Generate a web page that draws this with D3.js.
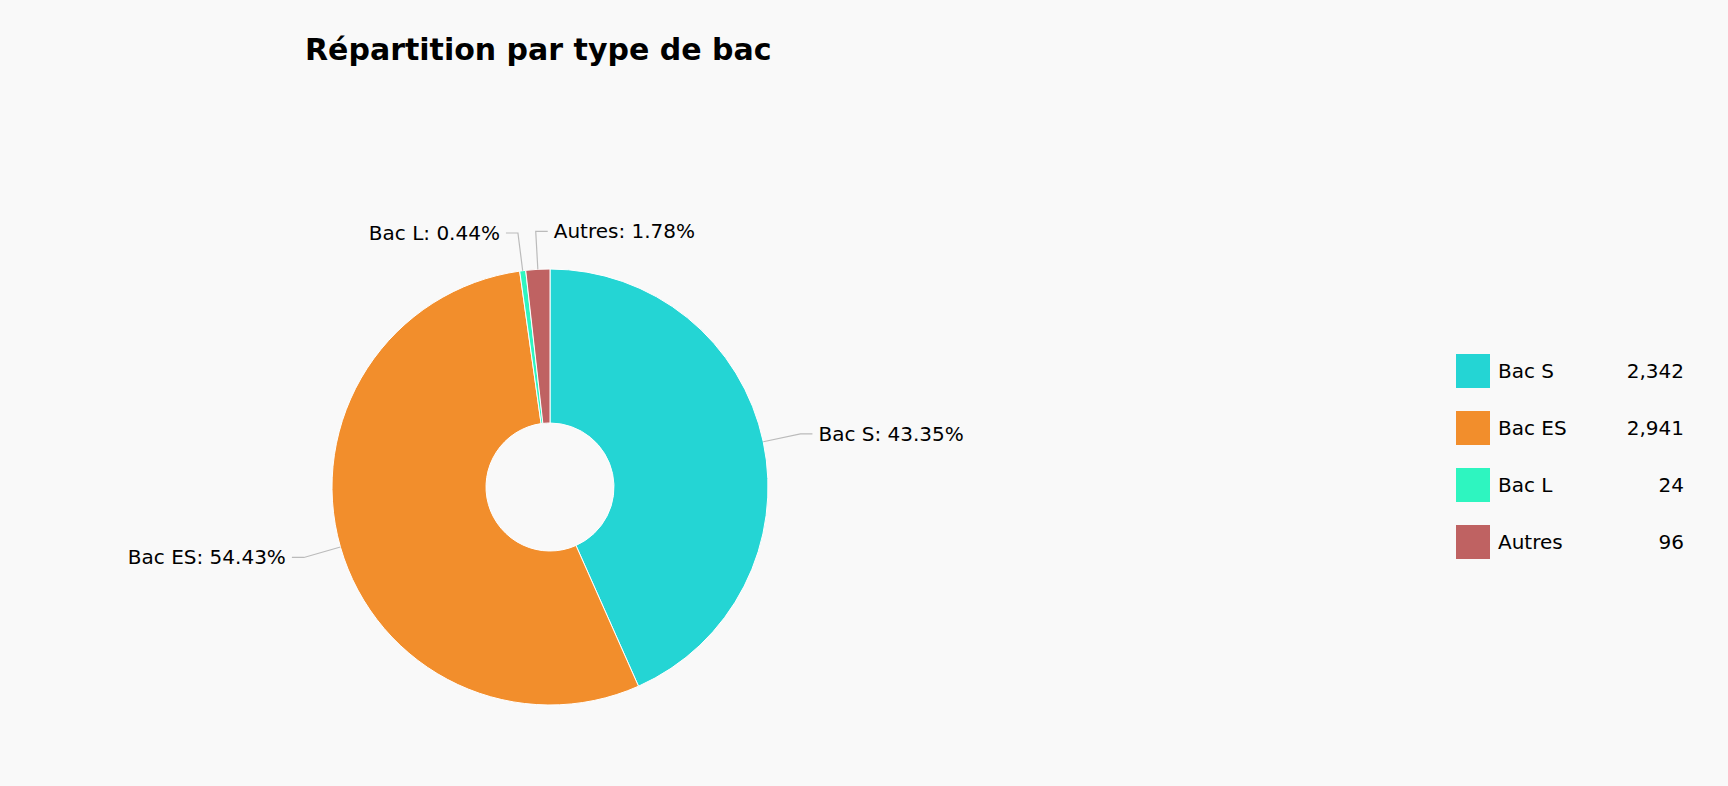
<!DOCTYPE html>
<html>
<head>
<meta charset="utf-8">
<script src="https://cdn.jsdelivr.net/npm/d3@7"></script>
<style>
  body { margin: 0; background: #f9f9f9; }
  text { font-family: "DejaVu Sans", Verdana, sans-serif; }
</style>
</head>
<body>
<div id="chart"></div>
<script>
var svgWidth = 1728;
var svgHeight = 786;

// data
var categories = ["Bac S", "Bac ES", "Bac L", "Autres"];
var counts = [2342, 2941, 24, 96];
var colors = ["#24d5d4", "#f28e2c", "#2ef5c0", "#bf6262"];

var cx = 550, cy = 487, outerR = 218, innerR = 64;

var svg = d3.select("#chart").append("svg")
  .attr("width", svgWidth)
  .attr("height", svgHeight);

svg.append("rect").attr("width", svgWidth).attr("height", svgHeight).attr("fill", "#f9f9f9");

svg.append("text")
  .attr("x", 305).attr("y", 60)
  .attr("font-size", 30).attr("font-weight", "bold")
  .text("Répartition par type de bac");

var total = d3.sum(counts);
var pie = d3.pie().sort(null).value(d => d)(counts);
var arc = d3.arc().innerRadius(innerR).outerRadius(outerR);

var g = svg.append("g").attr("transform", `translate(${cx}, ${cy})`);

g.selectAll("path")
  .data(pie)
  .enter()
  .append("path")
  .attr("d", arc)
  .attr("fill", (d, i) => colors[i])
  .attr("stroke", "#ffffff")
  .attr("stroke-width", 1);

// leader lines + labels
pie.forEach(function(d, i) {
  var a = (d.startAngle + d.endAngle) / 2;
  var p0 = [Math.sin(a) * outerR, -Math.cos(a) * outerR];
  var p1 = [Math.sin(a) * (outerR + 38), -Math.cos(a) * (outerR + 38)];
  var right = Math.sin(a) >= 0;
  if (i == 2) right = false;
  if (i == 3) right = true;
  var p2 = [p1[0] + (right ? 12 : -12), p1[1]];
  g.append("polyline")
    .attr("points", [p0, p1, p2].map(p => p.join(",")).join(" "))
    .attr("fill", "none")
    .attr("stroke", "#bbbbbb")
    .attr("stroke-width", 1.2);
  g.append("text")
    .attr("x", p2[0] + (right ? 6 : -6))
    .attr("y", p2[1])
    .attr("dy", "0.35em")
    .attr("font-size", 20)
    .attr("text-anchor", right ? "start" : "end")
    .text(categories[i] + ": " + (counts[i] / total * 100).toFixed(2) + "%");
});

// legend
var legend = svg.append("g").attr("transform", "translate(1456, 354)");
categories.forEach(function(c, i) {
  var row = legend.append("g").attr("transform", `translate(0, ${i * 57})`);
  row.append("rect").attr("width", 34).attr("height", 34).attr("fill", colors[i]);
  row.append("text").attr("x", 42).attr("y", 17).attr("dy", "0.35em")
    .attr("font-size", 20).text(c);
  row.append("text").attr("x", 228).attr("y", 17).attr("dy", "0.35em")
    .attr("font-size", 20).attr("text-anchor", "end")
    .text(d3.format(",")(counts[i]));
});
</script>
</body>
</html>
